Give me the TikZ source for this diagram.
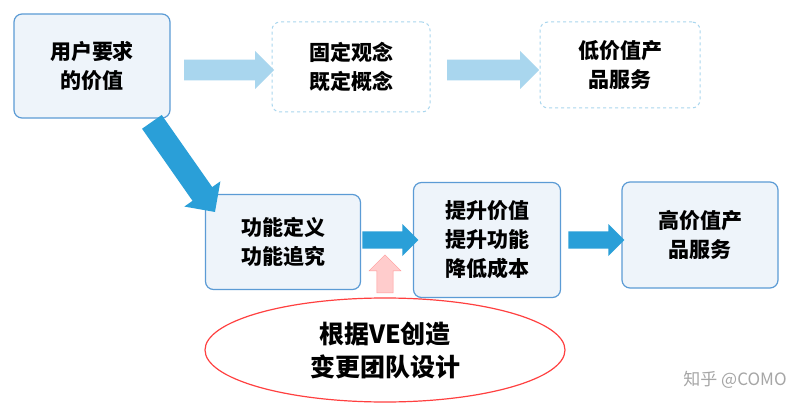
\documentclass[tikz,border=0pt]{standalone}
\usepackage{fontspec}
\setmainfont{Noto Sans CJK SC}
\usetikzlibrary{shapes.arrows,shapes.geometric}
\definecolor{bb}{HTML}{5B9BD5}
\definecolor{lb}{HTML}{9DC3E6}
\definecolor{fillb}{HTML}{EEF4FA}
\definecolor{arr}{HTML}{2A9FD8}
\definecolor{larr}{HTML}{A9D6EE}
\tikzset{
 box/.style={draw=bb,line width=1.2pt,rounded corners=8pt,fill=fillb,font=\fontsize{21}{29}\selectfont\bfseries,align=center,inner sep=0pt},
 dbox/.style={box,draw=larr,dashed,line width=1pt,fill=white},
 barr/.style={single arrow,fill=arr,draw=none,minimum height=#1,minimum width=38pt,single arrow head extend=6pt,inner sep=7pt},
 larrow/.style={barr=#1,fill=larr}
}
\begin{document}
\begin{tikzpicture}[x=1pt,y=-1pt]
\path[use as bounding box,fill=white] (0,0) rectangle (807,412);
\node[box,minimum width=156pt,minimum height=104pt] (a) at (92,66) {用户要求\\的价值};
\node[dbox,minimum width=158pt,minimum height=90pt] (b) at (351,67) {固定观念\\既定概念};
\node[dbox,minimum width=160pt,minimum height=86pt] (c) at (620,65) {低价值产\\品服务};
\node[box,minimum width=155pt,minimum height=95pt] (d) at (283,242) {功能定义\\功能追究};
\node[box,minimum width=147pt,minimum height=115pt] (e) at (487,240) {提升价值\\提升功能\\降低成本};
\node[box,minimum width=156pt,minimum height=106pt] (f) at (700,235) {高价值产\\品服务};
\node[draw=red!75,line width=1.2pt,fill=white,ellipse,minimum width=360pt,minimum height=104pt,font=\fontsize{25}{33}\selectfont\bfseries,align=center] (g) at (385,350) {根据VE创造\\变更团队设计};
\node[larrow=90pt] (a1) at (224,70) {};
\node[larrow=92pt] (a2) at (488,70) {};
\node[barr=56pt,minimum width=32pt] (a4) at (386,240) {};
\node[barr=56pt,minimum width=32pt] (a5) at (592,240) {};
\node[barr=110pt,minimum width=44pt,rotate=-55] (a3) at (180,162) {};
\node[single arrow,fill=pink!80,draw=red!40,rotate=90,minimum height=38pt,minimum width=32pt,single arrow head extend=5pt,inner sep=5pt] (a6) at (385,278) {};
\node[text=gray!70,font=\fontsize{17}{20}\selectfont] (w) at (735,380) {知乎 @COMO};
\end{tikzpicture}
\end{document}
